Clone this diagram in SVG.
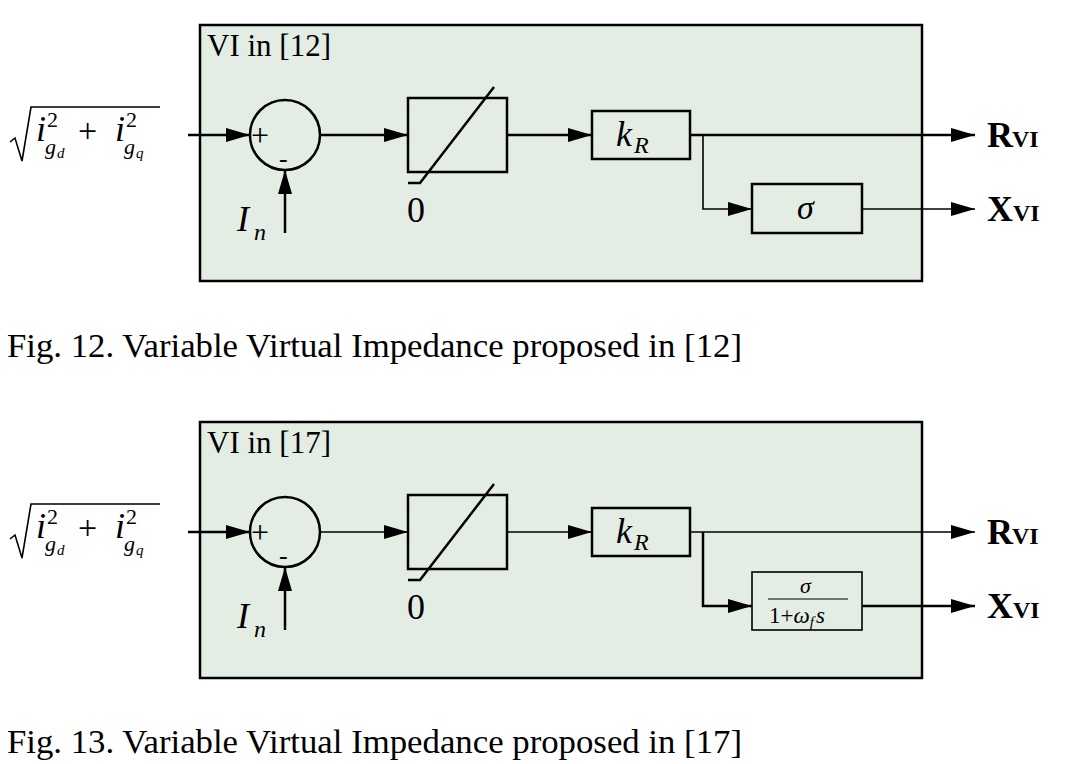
<svg xmlns="http://www.w3.org/2000/svg" width="1074" height="764" viewBox="0 0 1074 764">
<style>
.frame{fill:#e4ede4;stroke:#000;stroke-width:2.5}
.blk{fill:none;stroke:#000;stroke-width:2.5}
.ln{fill:none;stroke:#000;stroke-width:2.5}
.thin{fill:none;stroke:#000;stroke-width:1.6}
.t{font-family:"Liberation Serif",serif;fill:#000}
.m{font-family:"Liberation Serif",serif;font-style:italic;fill:#000}
.b{font-family:"Liberation Serif",serif;font-weight:bold;fill:#000}
</style>
<defs>
<marker id="ah" markerUnits="userSpaceOnUse" markerWidth="24" markerHeight="14" refX="24" refY="7" orient="auto"><path d="M0,0 L24,7 L0,14 Z" fill="#000"/></marker>
<g id="diag">
<rect class="frame" x="200" y="0" width="722" height="256"/>
<g id="inlabel">
<path d="M10,117 L15,113 L22,136 L31,82 L160,82" class="thin"/>
<text class="m" x="36" y="116" font-size="36">i</text><text class="t" x="47" y="102" font-size="22">2</text><text class="m" x="45" y="129" font-size="22">g</text><text class="m" x="57" y="133" font-size="15">d</text>
<text class="t" x="78" y="117" font-size="34">+</text>
<text class="m" x="115" y="116" font-size="36">i</text><text class="t" x="126" y="102" font-size="22">2</text><text class="m" x="124" y="129" font-size="22">g</text><text class="m" x="136" y="133" font-size="15">q</text>
</g>
<circle class="blk" cx="285" cy="110" r="35"/>
<text class="t" x="251" y="121" font-size="32">+</text>
<text class="t" x="279" y="142" font-size="26">-</text>
<text class="m" x="237" y="206" font-size="36">I</text><text class="m" x="254" y="215" font-size="24">n</text>
<rect class="blk" x="408" y="73" width="99" height="74"/>
<path class="ln" d="M408,158 L420,158 L494,62"/>
<text class="t" x="407" y="197" font-size="36">0</text>
<rect class="blk" x="592" y="86" width="98" height="48"/>
<text class="m" x="616" y="121" font-size="36">k</text><text class="m" x="634" y="128" font-size="24">R</text>
<text class="b" x="987" y="122" font-size="36">R</text><text class="b" x="1012" y="122" font-size="24">VI</text>
<text class="b" x="987" y="196" font-size="36">X</text><text class="b" x="1013" y="196" font-size="24">VI</text>
</g>
</defs>
<g id="fig12" transform="translate(0,25)">
<use href="#diag"/>
<text class="t" x="207" y="31" font-size="31">VI in [12]</text>
<rect class="blk" x="752" y="159" width="110" height="49"/>
<text class="m" x="797" y="194" font-size="34">σ</text>
<g id="conn12">
<path class="ln" d="M188,110 L250,110" marker-end="url(#ah)"/>
<path class="ln" d="M285,208 L285,145" marker-end="url(#ah)"/>
<path class="ln" d="M320,110 L408,110" marker-end="url(#ah)"/>
<path class="ln" d="M507,110 L592,110" marker-end="url(#ah)"/>
<path class="ln" d="M690,110 L975,110" marker-end="url(#ah)"/>
<path class="thin" d="M703,110 L703,184 L752,184" marker-end="url(#ah)"/>
<path class="thin" d="M862,184 L975,184" marker-end="url(#ah)"/>
</g>
</g>
<text class="t" x="7" y="357" font-size="33" textLength="735" lengthAdjust="spacingAndGlyphs">Fig. 12.  Variable Virtual Impedance proposed in [12]</text>
<g id="fig13" transform="translate(0,422)">
<use href="#diag"/>
<text class="t" x="207" y="31" font-size="31">VI in [17]</text>
<rect class="thin" x="752" y="150" width="110" height="58"/>
<text class="m" x="800" y="171" font-size="22">σ</text>
<line x1="768" y1="177" x2="848" y2="177" stroke="#000" stroke-width="1.2"/>
<text class="t" x="769" y="201" font-size="23">1+<tspan font-style="italic">ω</tspan><tspan font-style="italic" font-size="15" dy="4">f</tspan><tspan font-style="italic" dy="-4" dx="2">s</tspan></text>
<g id="conn13">
<path class="ln" d="M188,110 L250,110" marker-end="url(#ah)"/>
<path class="ln" d="M285,208 L285,145" marker-end="url(#ah)"/>
<path class="thin" d="M320,110 L408,110" marker-end="url(#ah)"/>
<path class="thin" d="M507,110 L592,110" marker-end="url(#ah)"/>
<path class="thin" d="M690,110 L975,110" marker-end="url(#ah)"/>
<path class="ln" d="M703,110 L703,184 L752,184" marker-end="url(#ah)"/>
<path class="ln" d="M862,184 L975,184" marker-end="url(#ah)"/>
</g>
</g>
<text class="t" x="7" y="753" font-size="33" textLength="735" lengthAdjust="spacingAndGlyphs">Fig. 13.  Variable Virtual Impedance proposed in [17]</text>
</svg>
